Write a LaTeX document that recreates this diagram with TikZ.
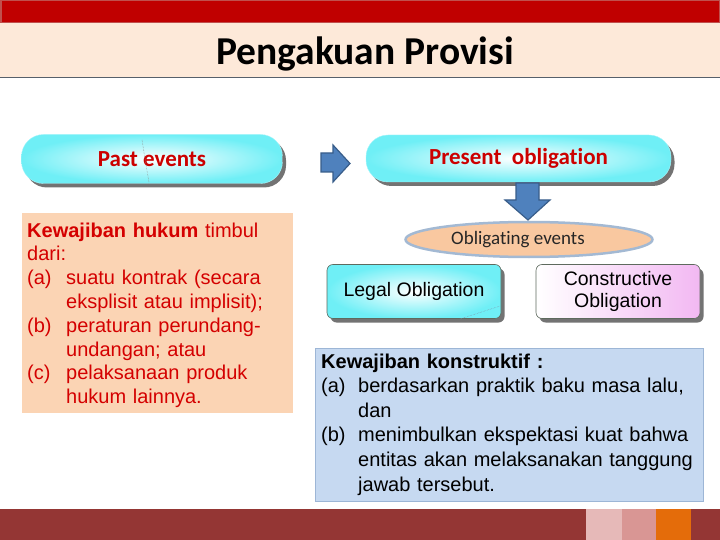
\documentclass[tikz,border=0pt]{standalone}
\usepackage{fontspec}
\setmainfont{Liberation Sans}
\newfontfamily\calib[RawFeature={-liga;-dlig;-clig}]{Carlito}
\usetikzlibrary{shapes.geometric,shadows}
\definecolor{redbar}{HTML}{C00000}
\definecolor{redbaredge}{HTML}{C0504D}
\definecolor{titleband}{HTML}{FDE9D9}
\definecolor{titleline}{HTML}{56606B}
\definecolor{pillcyan}{HTML}{6FEFF6}
\definecolor{pillred}{HTML}{CC0000}
\definecolor{arrowblue}{HTML}{4F81BD}
\definecolor{arrowedge}{HTML}{385D8A}
\definecolor{ellfill}{HTML}{F9C8A0}
\definecolor{elledge}{HTML}{A3B9D3}
\definecolor{leftfill}{HTML}{FBD4B4}
\definecolor{lred}{HTML}{D40000}
\definecolor{rightfill}{HTML}{C6D9F1}
\definecolor{rightedge}{HTML}{9DB6D6}
\definecolor{pinkc}{HTML}{F2B8F2}
\definecolor{boxedge}{HTML}{5E6A5E}
\definecolor{bdark}{HTML}{943634}
\definecolor{bpink}{HTML}{E6B9B8}
\definecolor{brose}{HTML}{D99694}
\definecolor{borange}{HTML}{E46C0A}
\begin{document}
\begin{tikzpicture}[x=1pt,y=-1pt,
  shadowed/.style={drop shadow={shadow xshift=3.5pt,shadow yshift=-4pt,fill=black!55,opacity=1}},
  pill/.style={shadowed,rounded corners=22pt,shade,inner color=white,outer color=pillcyan,
    draw=pillcyan!60!white,line width=0.4pt,inner sep=0pt,
    font=\calib\bfseries\fontsize{23}{27}\selectfont,text=pillred},
  obox/.style={shadowed,rounded corners=6pt,draw=boxedge,line width=0.6pt,inner sep=0pt,
    align=center,font=\fontsize{19.5}{21.5}\selectfont},
  blockarrow/.style={fill=arrowblue,draw=arrowedge,line width=1.2pt,line join=miter},
  bodytext/.style={anchor=base west,inner sep=0pt,align=left}
]
\useasboundingbox (0,0) rectangle (720,540);
% header
\fill[redbar] (0,0) rectangle (720,23);
\draw[redbaredge,line width=1.5pt] (0.75,0.75) rectangle (719.25,22.5);
\fill[titleband] (0,23) rectangle (720,77);
\draw[titleline,line width=1.2pt] (0,77.5) -- (720,77.5);
\node[anchor=base,inner sep=0pt,font=\calib\bfseries\fontsize{39.5}{44}\selectfont] (title) at (365,65) {Pengakuan Provisi};
% pills
\node[pill,minimum width=261pt,minimum height=49pt] (past) at (152,159) {Past events};
\node[pill,minimum width=305pt,minimum height=47pt] (present) at (518.5,158.5) {Present\ \ obligation};
\draw[densely dotted,black!45,line width=0.5pt] (142,140) -- (149,183);
% arrows
\draw[blockarrow] (321,153) -- (333,153) -- (333,145) -- (350,163.5) -- (333,182) -- (333,172) -- (321,172) -- cycle;
\draw[blockarrow] (516,183) -- (539,183) -- (539,200) -- (550,200) -- (528,220) -- (505,200) -- (516,200) -- cycle;
% ellipse
\node[ellipse,fill=ellfill,draw=elledge,line width=2.5pt,minimum width=247pt,minimum height=35pt,inner sep=0pt] (obl) at (529,239.5) {};
\node[inner sep=0pt,font=\calib\fontsize{19}{22}\selectfont,text=black!85] (obltext) at (518,240) {Obligating events};
% obligation boxes
\node[obox,shade,inner color=white,outer color=pillcyan,minimum width=174pt,minimum height=54pt] (legal) at (414,291.5) {Legal Obligation};
\draw[densely dotted,rightedge!80!black,line width=0.5pt] (460,319) -- (500,306);
\node[obox,left color=white,right color=pinkc,minimum width=164pt,minimum height=54pt] (constr) at (618,291.5) {Constructive\\Obligation};
% left text box
\fill[leftfill] (22,213) rectangle (293,413);
\node[bodytext,text width=268pt,text=lred,font=\fontsize{20}{23.8}\selectfont] (lefttext) at (27,237)
{\textbf{Kewajiban hukum} timbul\\
dari:\\
\makebox[39pt][l]{(a)}suatu kontrak (secara\\
\hspace*{39pt}eksplisit atau implisit);\\
\makebox[39pt][l]{(b)}peraturan perundang-\\
\hspace*{39pt}undangan; atau\\
\makebox[39pt][l]{(c)}pelaksanaan produk\\
\hspace*{39pt}hukum lainnya.};
% right text box
\draw[fill=rightfill,draw=rightedge,line width=0.6pt] (315,348) rectangle (703,501);
\node[bodytext,text width=380pt,text=black,font=\fontsize{20}{24.6}\selectfont] (righttext) at (321,368)
{\textbf{Kewajiban konstruktif :}\\
\makebox[37pt][l]{(a)}berdasarkan praktik baku masa lalu,\\
\hspace*{37pt}dan\\
\makebox[37pt][l]{(b)}menimbulkan ekspektasi kuat bahwa\\
\hspace*{37pt}entitas akan melaksanakan tanggung\\
\hspace*{37pt}jawab tersebut.};
% bottom bar
\fill[bdark] (0,509) rectangle (586,540);
\fill[bpink] (586,509) rectangle (622,540);
\fill[brose] (622,509) rectangle (656,540);
\fill[borange] (656,509) rectangle (691,540);
\fill[bdark] (691,509) rectangle (720,540);
\end{tikzpicture}
\end{document}
